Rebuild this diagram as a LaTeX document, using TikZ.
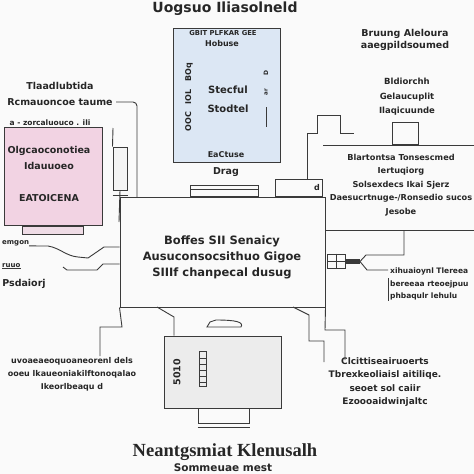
\documentclass[tikz,border=0pt]{standalone}
\usepackage{fontspec}
\setmainfont{DejaVu Sans}
\newfontfamily\serifbold{Liberation Serif}
\definecolor{bg}{HTML}{FAFAFA}
\definecolor{ln}{HTML}{3A3A3A}
\definecolor{blueF}{HTML}{DCE7F4}
\definecolor{pinkF}{HTML}{F2D3E3}
\definecolor{pinkT}{HTML}{EFDCE6}
\definecolor{grayF}{HTML}{ECECEC}
\definecolor{tx}{HTML}{262626}
\begin{document}
\begin{tikzpicture}[x=1pt,y=-1pt,
  wire/.style={draw=ln,line width=0.9pt},
  boxx/.style={draw=ln,line width=1pt,inner sep=0pt},
  lbl/.style={font=\fontsize{9.5}{11}\selectfont\bfseries,text=tx,inner sep=0pt,align=center},
  sml/.style={font=\fontsize{8}{9}\selectfont\bfseries,text=tx,inner sep=0pt,align=center},
  big/.style={font=\fontsize{11.5}{16}\selectfont\bfseries,text=tx,inner sep=0pt,align=center}]
\path[fill=bg] (0,0) rectangle (474,474);
\useasboundingbox (0,0) rectangle (474,474);

% title
\node[lbl,font=\fontsize{14}{16}\selectfont\bfseries] (title) at (225,9) {Uogsuo Iliasolneld};

% blue box
\node[boxx,fill=blueF,minimum width=107pt,minimum height=134pt] (blue) at (226.5,95) {};
\node[sml,font=\fontsize{6.8}{7}\selectfont\bfseries] (bt1) at (223,33) {GBIT PLFKAR GEE};
\node[sml] (bt2) at (222,44) {Hobuse};
\node[sml,rotate=90] (bt3) at (189,97) {OOC\quad IOL\quad BOq};
\node[lbl,font=\fontsize{10}{11}\selectfont\bfseries] (bt4) at (228,90) {Stecful};
\node[lbl,font=\fontsize{10}{11}\selectfont\bfseries] (bt5) at (228,109) {Stodtel};
\node[sml] (bt6) at (226,155) {EaCtuse};
\node[sml,font=\fontsize{6}{6}\selectfont\bfseries,rotate=90] (bt7) at (266,73) {D};
\node[sml,font=\fontsize{5.5}{6}\selectfont\bfseries,rotate=90] (bt8) at (266,92) {ar};
\coordinate (bv1) at (266,107);
\coordinate (bv2) at (266,127);
\draw[wire] (bv1) -- (bv2);
\node[lbl] (drag) at (226,172) {Drag};

% top right labels
\node[lbl,font=\fontsize{9.5}{12}\selectfont\bfseries] (tr1) at (405,40) {Bruung Aleloura\\aaegpildsoumed};
\node[sml,font=\fontsize{8.5}{14.5}\selectfont\bfseries] (tr2) at (407,97) {Bldiorchh\\Gelaucuplit\\Ilaqicuunde};

% step structure
\coordinate (s0) at (307,180);
\draw[wire] (s0) -- (307,133) -- (317,133) -- (317,115) -- (340,115) -- (340,133) -- (354,133);
\coordinate (h1) at (323,145);
\coordinate (h2) at (474,145);
\draw[wire] (h1) -- (h2);
\node[boxx,fill=bg,minimum width=26pt,minimum height=22pt,anchor=south west] (sb) at (392,145) {};

% right text block
\node[lbl,font=\fontsize{8.2}{13.5}\selectfont\bfseries] (rb) at (401,185) {Blartontsa Tonsescmed\\Iertuqiorg\\Solsexdecs Ikai Sjerz\\Daesucrtnuge-/Ronsedio sucos\\Jesobe};

% left labels
\node[lbl,font=\fontsize{9.5}{16}\selectfont\bfseries] (ll1) at (60,94) {Tlaadlubtida\\Rcmauoncoe taume};
\coordinate (ll1e) at (116,102);
\node[sml,font=\fontsize{7.5}{8}\selectfont\bfseries] (ll2) at (50,123) {a - zorcaluouco . ili};

% pink box
\node[boxx,fill=pinkF,minimum width=98pt,minimum height=98pt] (pink) at (53,176) {};
\node[boxx,fill=pinkT,minimum width=61pt,minimum height=8pt,anchor=north] (pinktab) at (pink.south) {};
\node[lbl,font=\fontsize{9.5}{16}\selectfont\bfseries] (p1) at (49,158) {Olgcaoconotiea\\Idauuoeo};
\node[lbl] (p2) at (49,198) {EATOICENA};

% small vertical rect
\node[boxx,fill=grayF!60,minimum width=14pt,minimum height=43pt] (vr) at (120,168.5) {};
\draw[wire] ([yshift=-5pt]vr.south west) -- ([yshift=-5pt]vr.south east);
\coordinate (vrt) at (113,128);
\draw[wire] (vrt) -- (vr.north west);

% main box
\node[boxx,fill=bg,minimum width=205pt,minimum height=110pt] (main) at (222.5,252) {};
\node[big] (mt) at (222,257) {Boffes SII Senaicy\\Ausuconsocsithuo Gigoe\\SIIIf chanpecal dusug};
% tabs on main box
\node[boxx,fill=bg,minimum width=68pt,minimum height=11pt,anchor=south west] (tab1) at (190,197) {};
\draw[wire] ([yshift=-4pt]tab1.north west) -- ([yshift=-4pt]tab1.north east);
\node[boxx,fill=bg,minimum width=47pt,minimum height=17pt,anchor=south west] (tab2) at (275,197) {};
\node[sml] (d) at (317,188) {d};

% label connector
\draw[wire,rounded corners=4pt] (ll1e) -- (137,102) -- (137,197);
% vertical near left
\draw[wire] (vr.south) -- (119,222);

% left lower wires
\node[sml,font=\fontsize{7}{8}\selectfont\bfseries,anchor=west] (lw1) at (2,243) {emgon};
\node[sml,font=\fontsize{7}{8}\selectfont\bfseries,anchor=west] (lw2) at (2,266) {ruuo};
\node[lbl] (lw3) at (24,284) {Psdaiorj};
\draw[wire] (lw1.south east) -- (48,246) .. controls (60,248) and (66,256) .. (78,257) -- (88,258) -- (104,247) -- (main.west |- 0,247);
\draw[wire] (lw2.south west) -- (lw2.south east);
\draw[wire] (63,267) -- (67,270) -- (97,270) -- (103,264) -- (main.west |- 0,264);

% right middle
\coordinate (rm) at (474,230);
\draw[wire] (main.east |- rm) -- (rm);
\node[boxx,fill=bg,minimum width=18pt,minimum height=14pt,anchor=west] (plug) at (327,261) {};
\draw[wire] (plug.north) -- (plug.south);
\draw[wire] (plug.west) -- (plug.east);
\node[boxx,fill=ln,minimum width=13pt,minimum height=4pt,anchor=west] (plug2) at (346,261.5) {};
\draw[wire] (404,230) -- (404,255) -- (366,255) -- (plug2.east);
\draw[wire] (plug2.east) -- (367,270) -- (388,270);
\node[sml,font=\fontsize{7.5}{12.5}\selectfont\bfseries,align=left,anchor=west] (rmt) at (390,284) {xihuaioynl Tlereea\\bereeaa rteoejpuu\\phbaqulr lehulu};
\draw[wire] (388,278) -- (388,301);

% bottom box
\node[boxx,fill=grayF,minimum width=117pt,minimum height=72pt] (gbox) at (222.5,372) {};
\node[boxx,fill=bg,minimum width=51pt,minimum height=15pt,anchor=north] (gtab) at (223.5,408) {};
\draw[wire] ([yshift=-3pt]gtab.south west) -- ([yshift=-3pt]gtab.south east);
\node[lbl,rotate=90] (g1) at (177,372) {5010};
\node[boxx,fill=grayF,minimum width=7pt,minimum height=35pt] (g2) at (202.5,369) {};
\foreach \yy in {358,364,370,376,382} \draw[ln,line width=0.6pt] (199,\yy) -- (206,\yy);

% bubble
\draw[wire,fill=bg] (207,327) -- (241,327) .. controls (244,322) and (236,320) .. (216,320) -- (210,322) -- cycle;

% bottom wires
\draw[wire] (main.south west) -- (122,327) -- (100,327) -- (100,356);
\draw[wire] (157,307) -- (174,317) -- (gbox.north west -| 174,0);
\draw[wire] (293,307) -- (309,315) -- (309,341) -- (324,341) -- (324,362);
\draw[wire] (main.south east) -- (325,330) -- (345,330) -- (345,360);

% bottom labels
\node[lbl,font=\fontsize{8}{13}\selectfont\bfseries] (bl) at (72,374) {uvoaeaeoquoaneorenl dels\\ooeu lkaueoniakilftonoqalao\\Ikeorlbeaqu d};
\node[lbl,font=\fontsize{9}{13.5}\selectfont\bfseries] (br) at (385,382) {Clcittiseairuoerts\\Tbrexkeoliaisl aitiliqe.\\seoet sol caiir\\Ezoooaidwinjaltc};

% bottom title
\node[text=tx,inner sep=0pt,font=\serifbold\fontsize{18.5}{20}\selectfont\bfseries] (bt) at (225,452) {Neantgsmiat Klenusalh};
\node[text=tx,inner sep=0pt,font=\fontsize{10.5}{11}\selectfont\bfseries] (bt2) at (223,468) {Sommeuae mest};
\end{tikzpicture}
\end{document}
